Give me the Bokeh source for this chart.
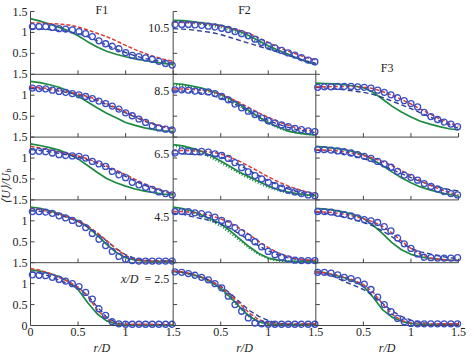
import math
from bokeh.plotting import figure
from bokeh.models import Range1d
from bokeh.core.properties import value
from bokeh.embed import file_html
from bokeh.resources import INLINE

CASES = ["F1", "F2", "F3"]
STATIONS = ["10.5", "8.5", "6.5", "4.5", "2.5"]
X_TICKS = [0.0, 0.5, 1.0, 1.5]
X_TICK_LABELS = ["0", "0.5", "1", "1.5"]
Y_TICKS = [0.0, 0.5, 1.0, 1.5]
Y_TICK_LABELS = ["0", "0.5", "1", "1.5"]

R_LINE = [0.0, 0.1, 0.2, 0.3, 0.4, 0.5, 0.6, 0.7, 0.8, 0.9, 1.0, 1.1, 1.2, 1.3, 1.4, 1.5]
R_EXP = [0.02, 0.09, 0.16, 0.23, 0.30, 0.37, 0.44, 0.51, 0.58, 0.65, 0.72,
         0.79, 0.86, 0.93, 1.00, 1.07, 1.14, 1.21, 1.28, 1.35, 1.42, 1.49]

# ---- F1 ----
F1_105_GREEN = [1.33, 1.27, 1.20, 1.12, 1.04, 0.92, 0.78, 0.65, 0.55, 0.48, 0.42, 0.37, 0.33, 0.29, 0.26, 0.23]
F1_105_RED = [1.23, 1.22, 1.21, 1.20, 1.18, 1.13, 1.06, 0.98, 0.90, 0.80, 0.69, 0.59, 0.50, 0.42, 0.36, 0.31]
F1_105_BLUE = [1.09, 1.08, 1.07, 1.05, 1.02, 0.97, 0.90, 0.80, 0.70, 0.60, 0.52, 0.44, 0.38, 0.33, 0.30, 0.27]
F1_105_EXP = [1.14, 1.14, 1.14, 1.12, 1.09, 1.08, 1.06, 1.02, 0.97, 0.90, 0.80, 0.73, 0.67, 0.61, 0.52, 0.45, 0.42, 0.39, 0.36, 0.31, 0.26, 0.22]

F1_85_GREEN = [1.33, 1.30, 1.25, 1.19, 1.10, 0.98, 0.84, 0.70, 0.57, 0.46, 0.35, 0.28, 0.22, 0.18, 0.15, 0.13]
F1_85_RED = [1.19, 1.18, 1.16, 1.12, 1.08, 1.03, 0.97, 0.90, 0.80, 0.70, 0.60, 0.50, 0.40, 0.31, 0.24, 0.19]
F1_85_BLUE = [1.16, 1.15, 1.13, 1.10, 1.06, 1.01, 0.95, 0.87, 0.78, 0.68, 0.58, 0.48, 0.38, 0.30, 0.24, 0.20]
F1_85_EXP = [1.17, 1.16, 1.15, 1.12, 1.09, 1.07, 1.04, 1.01, 0.97, 0.92, 0.86, 0.80, 0.74, 0.67, 0.58, 0.51, 0.43, 0.35, 0.27, 0.22, 0.19, 0.17]

F1_65_GREEN = [1.34, 1.30, 1.25, 1.19, 1.10, 0.98, 0.82, 0.66, 0.51, 0.41, 0.33, 0.26, 0.21, 0.17, 0.14, 0.12]
F1_65_RED = [1.28, 1.24, 1.19, 1.14, 1.10, 1.05, 0.98, 0.90, 0.81, 0.71, 0.60, 0.49, 0.38, 0.29, 0.20, 0.15]
F1_65_BLUE = [1.20, 1.18, 1.15, 1.11, 1.07, 1.02, 0.96, 0.88, 0.78, 0.67, 0.56, 0.45, 0.35, 0.27, 0.20, 0.15]
F1_65_EXP = [1.16, 1.16, 1.15, 1.12, 1.08, 1.06, 1.05, 1.04, 1.00, 0.92, 0.86, 0.80, 0.68, 0.60, 0.53, 0.42, 0.36, 0.30, 0.25, 0.19, 0.15, 0.12]

F1_45_GREEN = [1.33, 1.30, 1.24, 1.17, 1.09, 1.00, 0.85, 0.66, 0.44, 0.25, 0.12, 0.06, 0.04, 0.03, 0.03, 0.03]
F1_45_RED = [1.30, 1.27, 1.22, 1.16, 1.09, 1.00, 0.88, 0.72, 0.53, 0.33, 0.17, 0.08, 0.05, 0.04, 0.04, 0.04]
F1_45_BLUE = [1.24, 1.23, 1.20, 1.14, 1.07, 0.98, 0.86, 0.70, 0.52, 0.34, 0.19, 0.10, 0.06, 0.05, 0.04, 0.04]
F1_45_EXP = [1.22, 1.22, 1.21, 1.18, 1.12, 1.07, 1.01, 0.94, 0.84, 0.70, 0.56, 0.41, 0.27, 0.15, 0.08, 0.05, 0.04, 0.04, 0.04, 0.04, 0.04, 0.04]

F1_25_GREEN = [1.33, 1.30, 1.24, 1.17, 1.05, 0.86, 0.55, 0.28, 0.11, 0.04, 0.02, 0.01, 0.01, 0.01, 0.01, 0.01]
F1_25_RED = [1.36, 1.32, 1.25, 1.15, 1.05, 0.92, 0.70, 0.38, 0.15, 0.05, 0.03, 0.03, 0.03, 0.03, 0.03, 0.03]
F1_25_BLUE = [1.28, 1.25, 1.18, 1.08, 1.00, 0.90, 0.72, 0.45, 0.20, 0.07, 0.03, 0.02, 0.02, 0.02, 0.02, 0.02]
F1_25_EXP = [1.21, 1.20, 1.19, 1.15, 1.10, 1.06, 1.00, 0.93, 0.79, 0.63, 0.40, 0.24, 0.09, 0.04, 0.03, 0.03, 0.03, 0.03, 0.03, 0.03, 0.03, 0.03]

# ---- F2 ----
F2_105_GREEN = [1.29, 1.28, 1.26, 1.23, 1.20, 1.17, 1.10, 1.02, 0.92, 0.80, 0.68, 0.58, 0.49, 0.39, 0.30, 0.23]
F2_105_GDOT = [1.26, 1.25, 1.23, 1.20, 1.16, 1.12, 1.05, 0.97, 0.87, 0.76, 0.65, 0.55, 0.46, 0.38, 0.30, 0.23]
F2_105_RED = [1.25, 1.24, 1.23, 1.21, 1.19, 1.16, 1.11, 1.05, 0.97, 0.87, 0.76, 0.65, 0.56, 0.48, 0.40, 0.34]
F2_105_BLUE = [1.09, 1.08, 1.06, 1.03, 1.00, 0.95, 0.88, 0.81, 0.74, 0.67, 0.60, 0.53, 0.46, 0.39, 0.32, 0.26]
F2_105_EXP = [1.19, 1.19, 1.19, 1.18, 1.17, 1.15, 1.13, 1.10, 1.07, 1.02, 0.97, 0.92, 0.84, 0.76, 0.69, 0.63, 0.57, 0.51, 0.46, 0.40, 0.34, 0.30]

F2_85_GREEN = [1.28, 1.26, 1.22, 1.17, 1.10, 1.02, 0.91, 0.78, 0.63, 0.48, 0.35, 0.24, 0.15, 0.10, 0.07, 0.05]
F2_85_GDOT = [1.25, 1.23, 1.19, 1.14, 1.07, 0.98, 0.87, 0.74, 0.60, 0.46, 0.33, 0.23, 0.15, 0.10, 0.07, 0.05]
F2_85_RED = [1.15, 1.15, 1.14, 1.12, 1.09, 1.03, 0.93, 0.82, 0.70, 0.58, 0.47, 0.37, 0.29, 0.22, 0.17, 0.14]
F2_85_BLUE = [1.10, 1.10, 1.08, 1.05, 1.00, 0.93, 0.84, 0.73, 0.61, 0.50, 0.40, 0.31, 0.24, 0.18, 0.14, 0.11]
F2_85_EXP = [1.13, 1.13, 1.12, 1.10, 1.09, 1.08, 1.04, 0.97, 0.89, 0.79, 0.70, 0.62, 0.54, 0.46, 0.39, 0.34, 0.29, 0.25, 0.21, 0.18, 0.15, 0.13]

F2_65_GREEN = [1.32, 1.29, 1.23, 1.16, 1.05, 0.93, 0.80, 0.66, 0.55, 0.44, 0.33, 0.25, 0.19, 0.15, 0.12, 0.10]
F2_65_GDOT = [1.29, 1.26, 1.20, 1.12, 1.01, 0.89, 0.76, 0.63, 0.51, 0.40, 0.30, 0.23, 0.17, 0.13, 0.11, 0.09]
F2_65_RED = [1.18, 1.18, 1.17, 1.16, 1.14, 1.10, 1.02, 0.92, 0.80, 0.68, 0.55, 0.44, 0.34, 0.26, 0.19, 0.14]
F2_65_BLUE = [1.10, 1.10, 1.09, 1.08, 1.06, 1.02, 0.94, 0.83, 0.70, 0.58, 0.46, 0.36, 0.27, 0.20, 0.15, 0.12]
F2_65_EXP = [1.12, 1.17, 1.16, 1.15, 1.16, 1.14, 1.10, 1.06, 0.99, 0.89, 0.77, 0.67, 0.58, 0.50, 0.42, 0.34, 0.28, 0.23, 0.19, 0.15, 0.12, 0.10]

F2_45_GREEN = [1.33, 1.29, 1.23, 1.14, 1.04, 0.93, 0.76, 0.57, 0.38, 0.22, 0.11, 0.06, 0.04, 0.03, 0.03, 0.03]
F2_45_GDOT = [1.30, 1.26, 1.20, 1.10, 1.00, 0.88, 0.71, 0.53, 0.35, 0.20, 0.10, 0.05, 0.03, 0.03, 0.03, 0.03]
F2_45_RED = [1.22, 1.22, 1.20, 1.17, 1.12, 1.05, 0.95, 0.82, 0.67, 0.51, 0.36, 0.24, 0.15, 0.10, 0.07, 0.06]
F2_45_BLUE = [1.18, 1.16, 1.10, 1.05, 1.00, 0.92, 0.82, 0.68, 0.54, 0.40, 0.28, 0.19, 0.12, 0.08, 0.06, 0.05]
F2_45_EXP = [1.22, 1.22, 1.22, 1.19, 1.17, 1.14, 1.09, 1.01, 0.93, 0.84, 0.72, 0.61, 0.50, 0.38, 0.27, 0.19, 0.13, 0.09, 0.06, 0.05, 0.05, 0.05]

F2_25_GREEN = [1.30, 1.27, 1.22, 1.15, 1.04, 0.89, 0.68, 0.44, 0.22, 0.09, 0.04, 0.03, 0.02, 0.02, 0.02, 0.02]
F2_25_GDOT = [1.29, 1.26, 1.21, 1.13, 1.02, 0.87, 0.66, 0.42, 0.21, 0.08, 0.04, 0.03, 0.02, 0.02, 0.02, 0.02]
F2_25_RED = [1.30, 1.28, 1.23, 1.16, 1.06, 0.92, 0.73, 0.52, 0.30, 0.14, 0.06, 0.04, 0.04, 0.04, 0.04, 0.04]
F2_25_BLUE = [1.29, 1.27, 1.23, 1.16, 1.07, 0.94, 0.77, 0.56, 0.36, 0.22, 0.12, 0.05, 0.03, 0.03, 0.03, 0.03]
F2_25_EXP = [1.28, 1.27, 1.24, 1.20, 1.15, 1.09, 1.00, 0.90, 0.70, 0.50, 0.34, 0.18, 0.06, 0.04, 0.03, 0.03, 0.03, 0.03, 0.03, 0.03, 0.03, 0.03]

# ---- F3 ----
F3_85_GREEN = [1.29, 1.28, 1.27, 1.25, 1.22, 1.18, 1.07, 0.91, 0.74, 0.60, 0.48, 0.38, 0.31, 0.25, 0.20, 0.17]
F3_85_RED = [1.20, 1.20, 1.21, 1.21, 1.21, 1.19, 1.16, 1.09, 1.00, 0.90, 0.79, 0.67, 0.55, 0.44, 0.34, 0.26]
F3_85_BLUE = [1.19, 1.17, 1.15, 1.13, 1.10, 1.07, 1.02, 0.95, 0.86, 0.77, 0.68, 0.58, 0.48, 0.39, 0.30, 0.21]
F3_85_EXP = [1.19, 1.20, 1.20, 1.21, 1.21, 1.21, 1.20, 1.19, 1.17, 1.12, 1.07, 1.01, 0.94, 0.87, 0.80, 0.72, 0.59, 0.49, 0.42, 0.36, 0.31, 0.25]

F3_65_GREEN = [1.28, 1.26, 1.23, 1.20, 1.15, 1.08, 0.96, 0.82, 0.67, 0.53, 0.41, 0.31, 0.24, 0.18, 0.13, 0.09]
F3_65_RED = [1.20, 1.19, 1.18, 1.15, 1.11, 1.06, 1.00, 0.92, 0.82, 0.70, 0.58, 0.46, 0.35, 0.26, 0.18, 0.12]
F3_65_BLUE = [1.19, 1.17, 1.14, 1.10, 1.05, 0.99, 0.91, 0.83, 0.73, 0.63, 0.53, 0.44, 0.36, 0.30, 0.25, 0.21]
F3_65_EXP = [1.20, 1.20, 1.19, 1.17, 1.15, 1.12, 1.08, 1.04, 0.99, 0.92, 0.86, 0.78, 0.68, 0.59, 0.54, 0.47, 0.39, 0.32, 0.26, 0.20, 0.15, 0.12]

F3_45_GREEN = [1.30, 1.28, 1.25, 1.21, 1.15, 1.06, 0.90, 0.70, 0.48, 0.31, 0.20, 0.14, 0.10, 0.08, 0.06, 0.05]
F3_45_RED = [1.22, 1.21, 1.19, 1.16, 1.11, 1.05, 0.98, 0.87, 0.71, 0.52, 0.34, 0.20, 0.12, 0.08, 0.06, 0.06]
F3_45_BLUE = [1.20, 1.18, 1.14, 1.09, 1.03, 0.96, 0.88, 0.76, 0.62, 0.47, 0.34, 0.26, 0.21, 0.16, 0.12, 0.10]
F3_45_EXP = [1.22, 1.22, 1.21, 1.18, 1.15, 1.12, 1.07, 1.03, 1.00, 0.96, 0.86, 0.76, 0.59, 0.45, 0.34, 0.21, 0.13, 0.12, 0.11, 0.11, 0.11, 0.12]

F3_25_GREEN = [1.30, 1.26, 1.20, 1.14, 1.06, 0.94, 0.68, 0.38, 0.20, 0.10, 0.05, 0.03, 0.03, 0.03, 0.03, 0.03]
F3_25_RED = [1.28, 1.26, 1.22, 1.16, 1.08, 0.98, 0.80, 0.52, 0.27, 0.12, 0.06, 0.05, 0.04, 0.04, 0.04, 0.04]
F3_25_BLUE = [1.26, 1.23, 1.16, 1.05, 0.96, 0.86, 0.72, 0.53, 0.35, 0.22, 0.13, 0.07, 0.04, 0.03, 0.03, 0.03]
F3_25_EXP = [1.27, 1.27, 1.25, 1.21, 1.15, 1.12, 1.07, 0.99, 0.86, 0.68, 0.50, 0.33, 0.17, 0.09, 0.05, 0.04, 0.04, 0.04, 0.04, 0.04, 0.04, 0.04]

GREEN = {("F1", "10.5"): F1_105_GREEN, ("F1", "8.5"): F1_85_GREEN, ("F1", "6.5"): F1_65_GREEN,
         ("F1", "4.5"): F1_45_GREEN, ("F1", "2.5"): F1_25_GREEN,
         ("F2", "10.5"): F2_105_GREEN, ("F2", "8.5"): F2_85_GREEN, ("F2", "6.5"): F2_65_GREEN,
         ("F2", "4.5"): F2_45_GREEN, ("F2", "2.5"): F2_25_GREEN,
         ("F3", "8.5"): F3_85_GREEN, ("F3", "6.5"): F3_65_GREEN,
         ("F3", "4.5"): F3_45_GREEN, ("F3", "2.5"): F3_25_GREEN}
GDOT = {("F2", "10.5"): F2_105_GDOT, ("F2", "8.5"): F2_85_GDOT, ("F2", "6.5"): F2_65_GDOT,
        ("F2", "4.5"): F2_45_GDOT, ("F2", "2.5"): F2_25_GDOT}
RED = {("F1", "10.5"): F1_105_RED, ("F1", "8.5"): F1_85_RED, ("F1", "6.5"): F1_65_RED,
       ("F1", "4.5"): F1_45_RED, ("F1", "2.5"): F1_25_RED,
       ("F2", "10.5"): F2_105_RED, ("F2", "8.5"): F2_85_RED, ("F2", "6.5"): F2_65_RED,
       ("F2", "4.5"): F2_45_RED, ("F2", "2.5"): F2_25_RED,
       ("F3", "8.5"): F3_85_RED, ("F3", "6.5"): F3_65_RED,
       ("F3", "4.5"): F3_45_RED, ("F3", "2.5"): F3_25_RED}
BLUE = {("F1", "10.5"): F1_105_BLUE, ("F1", "8.5"): F1_85_BLUE, ("F1", "6.5"): F1_65_BLUE,
        ("F1", "4.5"): F1_45_BLUE, ("F1", "2.5"): F1_25_BLUE,
        ("F2", "10.5"): F2_105_BLUE, ("F2", "8.5"): F2_85_BLUE, ("F2", "6.5"): F2_65_BLUE,
        ("F2", "4.5"): F2_45_BLUE, ("F2", "2.5"): F2_25_BLUE,
        ("F3", "8.5"): F3_85_BLUE, ("F3", "6.5"): F3_65_BLUE,
        ("F3", "4.5"): F3_45_BLUE, ("F3", "2.5"): F3_25_BLUE}
EXP = {("F1", "10.5"): F1_105_EXP, ("F1", "8.5"): F1_85_EXP, ("F1", "6.5"): F1_65_EXP,
       ("F1", "4.5"): F1_45_EXP, ("F1", "2.5"): F1_25_EXP,
       ("F2", "10.5"): F2_105_EXP, ("F2", "8.5"): F2_85_EXP, ("F2", "6.5"): F2_65_EXP,
       ("F2", "4.5"): F2_45_EXP, ("F2", "2.5"): F2_25_EXP,
       ("F3", "8.5"): F3_85_EXP, ("F3", "6.5"): F3_65_EXP,
       ("F3", "4.5"): F3_45_EXP, ("F3", "2.5"): F3_25_EXP}

C_GREEN = "#1b8a3e"
C_RED = "#e0392f"
C_NAVY = "#2a3d92"
C_CIRC = "#3a4cc4"
C_AXIS = "#444444"
C_TEXT = "#222222"
SERIF = "Liberation Serif"

# ---- layout (canvas pixels) ----
W, H = 466, 354
LEFT, RIGHT, TOP, BOTTOM = 30, 458, 11, 325
NC, NR = len(CASES), len(STATIONS)
CW = (RIGHT - LEFT) / NC
RH = (BOTTOM - TOP) / NR
SPAN = 1.5

p = figure(width=W, height=H, title=None,
           x_range=Range1d(0, W), y_range=Range1d(0, H),
           x_axis_location=None, y_axis_location=None,
           output_backend="svg", toolbar_location=None, min_border=0)
p.grid.visible = False
p.outline_line_color = None
p.background_fill_color = "white"
p.border_fill_color = "white"

TXT = dict(text_font=value(SERIF), text_font_size="12px", text_color=C_TEXT)
ITXT = dict(text_font=value(SERIF), text_font_size="12px", text_color=C_TEXT,
            text_font_style="italic")

rows_bottom_up = list(reversed(STATIONS))
for c, case in enumerate(CASES):
    present = [k for k, st in enumerate(rows_bottom_up) if (case, st) in GREEN]
    k_top = max(present)
    for k in present:
        st = rows_bottom_up[k]
        key = (case, st)
        y_bot = (H - BOTTOM) + k * RH
        sub = p.subplot(x_source=Range1d(0, SPAN), y_source=Range1d(0, SPAN),
                        x_target=Range1d(LEFT + c * CW, LEFT + (c + 1) * CW),
                        y_target=Range1d(y_bot, y_bot + RH))
        # axis lines and inward ticks
        sub.segment(x0=[0, 0], y0=[0, 0], x1=[0, SPAN], y1=[SPAN, 0], line_color=C_AXIS, line_width=1)
        sub.ray(x=[0] * 3, y=Y_TICKS[1:], length=4, length_units="screen",
                angle=0, line_color=C_AXIS, line_width=1)
        sub.ray(x=X_TICKS[1:], y=[0] * 3, length=4, length_units="screen",
                angle=math.pi / 2, line_color=C_AXIS, line_width=1)
        # data
        sub.line(R_LINE, GREEN[key], line_color=C_GREEN, line_width=1.7)
        if key in GDOT:
            sub.line(R_LINE, GDOT[key], line_color=C_GREEN, line_width=2.2, line_dash="1 2")
        sub.line(R_LINE, BLUE[key], line_color=C_NAVY, line_width=1.4, line_dash="5 3")
        sub.line(R_LINE, RED[key], line_color=C_RED, line_width=1.5, line_dash="4 2")
        sub.scatter(R_EXP, EXP[key], marker="circle", size=6, fill_color=None,
                    line_color=C_CIRC, line_width=1.3)
        # y tick labels (first column)
        if c == 0:
            ys = [t for t in Y_TICKS if k == 0 or t > 0]
            labs = [l for t, l in zip(Y_TICKS, Y_TICK_LABELS) if k == 0 or t > 0]
            sub.text(x=[0] * len(ys), y=ys, text=labs, x_offset=-3, text_align="right",
                     text_baseline="middle", **TXT)
            if k == 0:
                sub.text(x=[1.46], y=[1.1], text=["= " + st], text_align="right",
                         text_baseline="middle", **TXT)
                sub.text(x=[1.46], y=[1.1], text=["x/D"], x_offset=-31, text_align="right",
                         text_baseline="middle", **ITXT)
            else:
                sub.text(x=[1.46], y=[1.1], text=[st], text_align="right",
                         text_baseline="middle", **TXT)
            if k == 2:
                sub.text(x=[0], y=[SPAN / 2], text=["⟨U⟩/U"], x_offset=-25, y_offset=20,
                         angle=math.pi / 2, text_align="center", text_baseline="middle",
                         text_font=value(SERIF), text_font_size="12px", text_color=C_TEXT,
                         text_font_style="italic")
                sub.text(x=[0], y=[SPAN / 2], text=["b"], x_offset=-22, y_offset=4,
                         angle=math.pi / 2, text_align="left", text_baseline="middle",
                         text_font=value(SERIF), text_font_size="8px", text_color=C_TEXT,
                         text_font_style="italic")
        # x tick labels and r/D (bottom row)
        if k == 0:
            xs = [t for t in X_TICKS if c == 0 or t > 0]
            labs = [l for t, l in zip(X_TICKS, X_TICK_LABELS) if c == 0 or t > 0]
            sub.text(x=xs, y=[0] * len(xs), text=labs, y_offset=2, text_align="center",
                     text_baseline="top", **TXT)
            sub.text(x=[SPAN / 2], y=[0], text=["r/D"], y_offset=15, text_align="center",
                     text_baseline="top", **ITXT)
        # column title above the top panel
        if k == k_top:
            sub.text(x=[SPAN / 2], y=[SPAN], text=[case], y_offset=(-2 if k == NR - 1 else -6),
                     text_align="center", text_baseline="alphabetic", **TXT)

open("out.html", "w").write(file_html(p, INLINE))
